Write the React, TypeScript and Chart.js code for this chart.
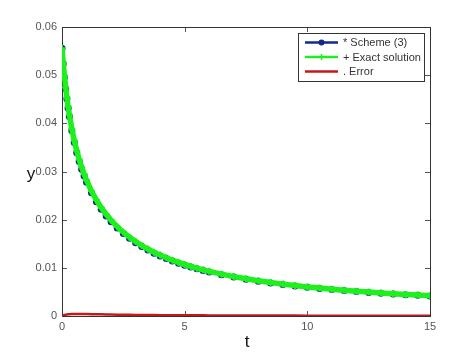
import React, { useEffect, useRef } from "react";
import { Chart, registerables } from "chart.js";

Chart.register(...registerables);

const tValues = [
  0, 0.05, 0.1, 0.15, 0.2, 0.25, 0.3, 0.4, 0.5, 0.6, 0.7, 0.8, 0.9, 1.0, 1.2, 1.4, 1.6, 1.8, 2.0,
  2.25, 2.5, 2.75, 3.0, 3.25, 3.5, 3.75, 4.0, 4.25, 4.5, 4.75, 5.0, 5.25, 5.5, 5.75, 6.0, 6.5,
  7.0, 7.5, 8.0, 8.5, 9.0, 9.5, 10, 10.5, 11, 11.5, 12, 12.5, 13, 13.5, 14, 14.5, 15,
];

const exactValues = [
  0.0556, 0.0525, 0.0498, 0.04745, 0.04535, 0.04348, 0.0418, 0.03888, 0.03643, 0.03432, 0.0325,
  0.0309, 0.02947, 0.02818, 0.02596, 0.02409, 0.02249, 0.0211, 0.01988, 0.01855, 0.01738,
  0.01636, 0.01545, 0.01463, 0.0139, 0.01324, 0.01264, 0.01209, 0.01158, 0.01112, 0.01069,
  0.0103, 0.00993, 0.00959, 0.00927, 0.00869, 0.00818, 0.00772, 0.00732, 0.00695, 0.00662,
  0.00632, 0.00604, 0.00579, 0.00556, 0.00535, 0.00515, 0.00496, 0.00479, 0.00463, 0.00448,
  0.00434, 0.00421,
];

const schemeValues = [
  0.0556, 0.05238, 0.0496, 0.04718, 0.04504, 0.04314, 0.04143, 0.03848, 0.03601, 0.03389,
  0.03207, 0.03048, 0.02906, 0.02778, 0.02558, 0.02373, 0.02215, 0.02078, 0.01958, 0.01827,
  0.01712, 0.01612, 0.01523, 0.01442, 0.0137, 0.01305, 0.01246, 0.01192, 0.01142, 0.01097,
  0.01054, 0.01016, 0.0098, 0.00946, 0.00915, 0.00858, 0.00808, 0.00762, 0.00723, 0.00686,
  0.00654, 0.00624, 0.00597, 0.00572, 0.00549, 0.00529, 0.00509, 0.0049, 0.00473, 0.00458,
  0.00443, 0.00429, 0.00416,
];

const errorValues = [
  0, 0.00012, 0.0002, 0.00027, 0.00031, 0.00034, 0.00037, 0.0004, 0.00042, 0.00043, 0.00043,
  0.00042, 0.00041, 0.0004, 0.00038, 0.00036, 0.00034, 0.00032, 0.0003, 0.00028, 0.00026,
  0.00024, 0.00022, 0.00021, 0.0002, 0.00019, 0.00018, 0.00017, 0.00016, 0.00015, 0.00015,
  0.00014, 0.00013, 0.00013, 0.00012, 0.00011, 0.0001, 0.0001, 0.00009, 0.00009, 0.00008,
  0.00008, 0.00007, 0.00007, 0.00007, 0.00006, 0.00006, 0.00006, 0.00006, 0.00005, 0.00005,
  0.00005, 0.00005,
];

const xTicks = [0, 5, 10, 15];
const yTicks = [0, 0.01, 0.02, 0.03, 0.04, 0.05, 0.06];
const legendLabels = ["* Scheme (3)", "+ Exact solution", ". Error"];

const BLUE = "#102a8c";
const GREEN = "#1ef01e";
const RED = "#c8171b";
const FONT = "'Liberation Sans', Arial, sans-serif";

const matlabPlugin = {
  id: "matlabDecor",
  beforeDatasetsDraw(chart: any) {
    const { ctx, chartArea: a, scales } = chart;
    ctx.save();
    ctx.strokeStyle = "#555";
    ctx.lineWidth = 1;
    ctx.beginPath();
    for (const v of yTicks) {
      const y = Math.round(scales.y.getPixelForValue(v)) + 0.5;
      ctx.moveTo(a.left, y);
      ctx.lineTo(a.left + 5, y);
      ctx.moveTo(a.right, y);
      ctx.lineTo(a.right - 5, y);
    }
    for (const v of xTicks) {
      const x = Math.round(scales.x.getPixelForValue(v)) + 0.5;
      ctx.moveTo(x, a.bottom);
      ctx.lineTo(x, a.bottom - 5);
      ctx.moveTo(x, a.top);
      ctx.lineTo(x, a.top + 5);
    }
    ctx.stroke();
    ctx.strokeStyle = "#333";
    ctx.strokeRect(Math.round(a.left) + 0.5, Math.round(a.top) + 0.5, Math.round(a.right - a.left), Math.round(a.bottom - a.top));
    ctx.restore();
  },
  afterDraw(chart: any) {
    const { ctx } = chart;
    ctx.save();
    // axis labels
    ctx.fillStyle = "#111";
    ctx.font = `17px ${FONT}`;
    ctx.textAlign = "center";
    ctx.textBaseline = "middle";
    ctx.fillText("y", 31, 174);
    ctx.fillText("t", 247, 342);
    // legend
    const bx = 298, by = 33, bw = 126, bh = 48;
    ctx.fillStyle = "#fff";
    ctx.fillRect(bx, by, bw, bh);
    ctx.strokeStyle = "#333";
    ctx.lineWidth = 1;
    ctx.strokeRect(bx + 0.5, by + 0.5, bw, bh);
    const rows = [42.5, 57, 71.5];
    const colors = [BLUE, GREEN, RED];
    rows.forEach((ry, i) => {
      ctx.strokeStyle = colors[i];
      ctx.lineWidth = 2.5;
      ctx.beginPath();
      ctx.moveTo(305, ry);
      ctx.lineTo(338, ry);
      ctx.stroke();
      if (i === 0) {
        ctx.fillStyle = BLUE;
        ctx.beginPath();
        ctx.arc(321.5, ry, 3, 0, Math.PI * 2);
        ctx.fill();
      } else if (i === 1) {
        ctx.lineWidth = 1.5;
        ctx.beginPath();
        ctx.moveTo(321.5, ry - 3);
        ctx.lineTo(321.5, ry + 3);
        ctx.stroke();
      }
      ctx.font = `11px ${FONT}`;
      ctx.textAlign = "left";
      ctx.textBaseline = "middle";
      ctx.fillStyle = "#333";
      ctx.fillText(legendLabels[i], 343, ry + 0.5);
    });
    ctx.restore();
  },
};

export default function App() {
  const ref = useRef<HTMLCanvasElement | null>(null);
  useEffect(() => {
    if (!ref.current) return;
    const chart = new Chart(ref.current, {
      type: "line",
      data: {
        labels: tValues,
        datasets: [
          {
            label: legendLabels[0],
            data: tValues.map((t, i) => ({ x: t, y: schemeValues[i] })),
            borderColor: BLUE,
            backgroundColor: BLUE,
            borderWidth: 2,
            pointRadius: 3.5,
            pointStyle: "circle",
            pointBorderWidth: 0,
            order: 3,
          },
          {
            label: legendLabels[1],
            data: tValues.map((t, i) => ({ x: t, y: exactValues[i] })),
            borderColor: GREEN,
            backgroundColor: GREEN,
            borderWidth: 5.5,
            pointRadius: 3.5,
            pointStyle: "cross",
            pointBorderWidth: 2,
            order: 2,
          },
          {
            label: legendLabels[2],
            data: tValues.map((t, i) => ({ x: t, y: errorValues[i] })),
            borderColor: RED,
            backgroundColor: RED,
            borderWidth: 2.5,
            pointRadius: 0,
            order: 1,
          },
        ],
      },
      options: {
        responsive: false,
        animation: false,
        parsing: true,
        layout: { padding: { left: 0, top: 27, right: 44, bottom: 0 } },
        plugins: { legend: { display: false }, tooltip: { enabled: false } },
        scales: {
          x: {
            type: "linear",
            min: 0,
            max: 15,
            afterFit: (s: any) => { s.height = 39; },
            afterBuildTicks: (s: any) => { s.ticks = xTicks.map((v) => ({ value: v })); },
            grid: { display: false, drawTicks: false },
            border: { display: false },
            ticks: { color: "#555", font: { size: 11, family: FONT }, padding: 4, maxRotation: 0 },
          },
          y: {
            type: "linear",
            min: 0,
            max: 0.06,
            afterFit: (s: any) => { s.width = 62; },
            afterBuildTicks: (s: any) => { s.ticks = yTicks.map((v) => ({ value: v })); },
            grid: { display: false, drawTicks: false },
            border: { display: false },
            ticks: {
              color: "#555",
              font: { size: 11, family: FONT },
              padding: 5,
              callback: (v: any) => String(Math.round(Number(v) * 100) / 100),
            },
          },
        },
      },
      plugins: [matlabPlugin],
    });
    return () => chart.destroy();
  }, []);
  return (
    <div style={{ position: "fixed", left: 0, top: 0, width: 474, height: 355, background: "#fff" }}>
      <canvas ref={ref} width={474} height={355} />
    </div>
  );
}
